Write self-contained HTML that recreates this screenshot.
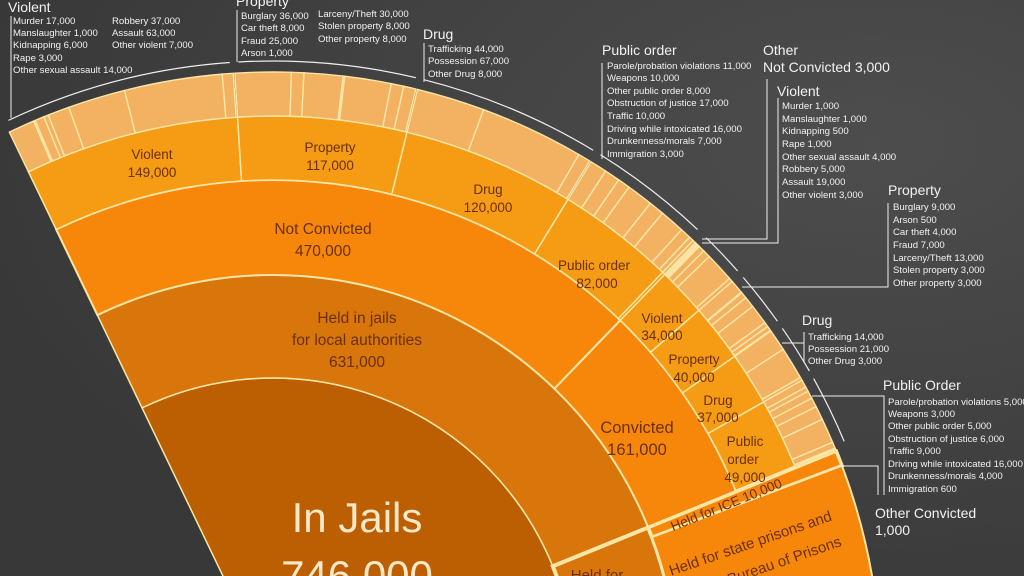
<!DOCTYPE html>
<html><head><meta charset="utf-8"><style>
html,body{margin:0;padding:0;width:1024px;height:576px;overflow:hidden;background:#3a3a3a}
svg{display:block}
text{font-family:"Liberation Sans",sans-serif}
.it{fill:#f2f2f2;font-size:9.6px}
.hd{fill:#f2f2f2;font-size:14px}
.in{fill:#6a3000;font-size:13.5px;text-anchor:middle}
.ln{stroke:#eee;stroke-width:1;fill:none}
</style></head><body>
<svg id="chart" width="1024" height="576" viewBox="0 0 1024 576">
<defs>
<radialGradient id="bg" cx="0.85" cy="0.25" r="0.9">
<stop offset="0" stop-color="#4d4d4d"/><stop offset="1" stop-color="#383838"/>
</radialGradient>
</defs>
<rect width="1024" height="576" fill="url(#bg)"/>
<g id="wedges"></g>
<g id="labelarcs"></g>
<g id="labels">
<text class="in" x="152" y="159">Violent</text><text class="in" x="152" y="177">149,000</text>
<text class="in" x="330" y="152">Property</text><text class="in" x="330" y="170">117,000</text>
<text class="in" x="488" y="194">Drug</text><text class="in" x="488" y="212">120,000</text>
<text class="in" x="594" y="270">Public order</text><text class="in" x="597" y="288">82,000</text>
<text class="in" style="font-size:15.5px" x="323" y="234">Not Convicted</text><text class="in" style="font-size:15.5px" x="323" y="256">470,000</text>
<text class="in" style="font-size:15.5px" x="357" y="323">Held in jails</text><text class="in" style="font-size:15.5px" x="357" y="345">for local authorities</text><text class="in" style="font-size:15.5px" x="357" y="367">631,000</text>
<text class="in" x="662" y="323">Violent</text><text class="in" x="662" y="340">34,000</text>
<text class="in" x="694" y="364">Property</text><text class="in" x="694" y="382">40,000</text>
<text class="in" x="718" y="405">Drug</text><text class="in" x="718" y="422">37,000</text>
<text class="in" x="745" y="446">Public</text><text class="in" x="743" y="464">order</text><text class="in" x="745" y="482">49,000</text>
<text class="in" style="font-size:16.5px" x="637" y="433">Convicted</text><text class="in" style="font-size:16.5px" x="637" y="455">161,000</text>
<text class="in" transform="translate(728,509) rotate(-22)" x="0" y="0">Held for ICE 10,000</text>
<text class="in" style="font-size:15px" transform="translate(752,548) rotate(-19)" x="0" y="0">Held for state prisons and</text>
<text class="in" style="font-size:15px" transform="translate(760,574) rotate(-19)" x="0" y="0">Federal Bureau of Prisons</text>
<text class="in" style="font-size:15px" x="597" y="580">Held for</text>
<text x="357" y="532" text-anchor="middle" style="font-size:42px;fill:#fbe8c6">In Jails</text>
<text x="357" y="590" text-anchor="middle" style="font-size:42px;fill:#fbe8c6">746,000</text>
</g>
<g id="annotations">
<text class="hd" x="8" y="12">Violent</text>
<text class="it" x="13" y="24">Murder 17,000</text><text class="it" x="13" y="36">Manslaughter 1,000</text><text class="it" x="13" y="48">Kidnapping 6,000</text><text class="it" x="13" y="61">Rape 3,000</text><text class="it" x="13" y="73">Other sexual assault 14,000</text>
<text class="it" x="112" y="24">Robbery 37,000</text><text class="it" x="112" y="36">Assault  63,000</text><text class="it" x="112" y="48">Other violent 7,000</text>
<line class="ln" x1="11" y1="16" x2="11" y2="118"/>
<text class="hd" x="236" y="6">Property</text>
<text class="it" x="241" y="19">Burglary 36,000</text><text class="it" x="241" y="31">Car theft 8,000</text><text class="it" x="241" y="44">Fraud 25,000</text><text class="it" x="241" y="56">Arson 1,000</text>
<text class="it" x="318" y="17">Larceny/Theft 30,000</text><text class="it" x="318" y="29">Stolen property 8,000</text><text class="it" x="318" y="42">Other property 8,000</text>
<line class="ln" x1="237" y1="10" x2="237" y2="62"/>
<text class="hd" x="423" y="39">Drug</text>
<text class="it" x="428" y="52">Trafficking 44,000</text><text class="it" x="428" y="64">Possession 67,000</text><text class="it" x="428" y="77">Other Drug 8,000</text>
<line class="ln" x1="424" y1="43" x2="424" y2="82"/>
<text class="hd" x="602" y="55">Public order</text>
<text class="it" x="607" y="69">Parole/probation violations 11,000</text><text class="it" x="607" y="81">Weapons 10,000</text><text class="it" x="607" y="94">Other public order 8,000</text><text class="it" x="607" y="106">Obstruction of justice 17,000</text><text class="it" x="607" y="119">Traffic 10,000</text><text class="it" x="607" y="132">Driving while intoxicated 16,000</text><text class="it" x="607" y="144">Drunkenness/morals 7,000</text><text class="it" x="607" y="157">Immigration 3,000</text>
<line class="ln" x1="602" y1="63" x2="602" y2="159"/>
<text class="hd" x="763" y="55">Other</text><text class="hd" x="763" y="72">Not Convicted 3,000</text>
<polyline class="ln" points="767,79 767,239 702,239"/>
<text class="hd" x="777" y="96">Violent</text>
<text class="it" x="782" y="109">Murder 1,000</text><text class="it" x="782" y="122">Manslaughter 1,000</text><text class="it" x="782" y="134">Kidnapping 500</text><text class="it" x="782" y="147">Rape 1,000</text><text class="it" x="782" y="160">Other sexual assault 4,000</text><text class="it" x="782" y="172">Robbery 5,000</text><text class="it" x="782" y="185">Assault 19,000</text><text class="it" x="782" y="198">Other violent 3,000</text>
<polyline class="ln" points="778,98 778,243 702,243"/>
<text class="hd" x="888" y="195">Property</text>
<text class="it" x="893" y="210">Burglary 9,000</text><text class="it" x="893" y="223">Arson 500</text><text class="it" x="893" y="235">Car theft 4,000</text><text class="it" x="893" y="248">Fraud 7,000</text><text class="it" x="893" y="261">Larceny/Theft 13,000</text><text class="it" x="893" y="273">Stolen property 3,000</text><text class="it" x="893" y="286">Other property  3,000</text>
<polyline class="ln" points="888,203 888,287 742,287"/>
<text class="hd" x="802" y="325">Drug</text>
<text class="it" x="808" y="340">Trafficking 14,000</text><text class="it" x="808" y="352">Possession 21,000</text><text class="it" x="808" y="364">Other Drug 3,000</text>
<polyline class="ln" points="804,332 804,363"/><line class="ln" x1="782" y1="343" x2="804" y2="343"/>
<text class="hd" x="883" y="390">Public Order</text>
<text class="it" x="888" y="405">Parole/probation violations 5,000</text><text class="it" x="888" y="417">Weapons 3,000</text><text class="it" x="888" y="429">Other public order 5,000</text><text class="it" x="888" y="442">Obstruction of justice 6,000</text><text class="it" x="888" y="454">Traffic 9,000</text><text class="it" x="888" y="467">Driving while intoxicated 16,000</text><text class="it" x="888" y="479">Drunkenness/morals 4,000</text><text class="it" x="888" y="492">Immigration 600</text>
<polyline class="ln" points="812,396 884,396 884,495"/>
<text class="hd" x="875" y="518">Other Convicted</text><text class="hd" x="875" y="535">1,000</text>
<polyline class="ln" points="838,466 878,466 878,495"/>
</g>
</svg>
<script>
// data (thousands)
const topNames = ['Held in jails for local authorities', 'Held for other authorities'];
const topValues = [631, 115];
const midNames = ['Not Convicted', 'Convicted', 'Held for ICE', 'Held for state prisons and Federal Bureau of Prisons'];
const midValues = [470, 161, 10, 105];
const catNames = ['NC Violent', 'NC Property', 'NC Drug', 'NC Public order', 'NC Other', 'C Violent', 'C Property', 'C Drug', 'C Public order', 'C Other'];
const catValues = [149, 117, 120, 82, 3, 34, 40, 37, 49, 1];
const subNCViolent = [17, 1, 6, 3, 14, 37, 63, 7];
const subNCProperty = [36, 8, 25, 1, 30, 8, 8];
const subNCDrug = [44, 67, 8];
const subNCPublic = [11, 10, 8, 17, 10, 16, 7, 3];
const subNCOther = [3];
const subCViolent = [1, 1, 0.5, 1, 4, 5, 19, 3];
const subCProperty = [9, 0.5, 4, 7, 13, 3, 3];
const subCDrug = [14, 21, 3];
const subCPublic = [5, 3, 5, 6, 9, 16, 4, 0.6];
const subCOther = [1];
const subGroups = [subNCViolent, subNCProperty, subNCDrug, subNCPublic, subNCOther, subCViolent, subCProperty, subCDrug, subCPublic, subCOther];

const CX = 273, CY = 680, A0 = -25.7, K = 0.1483;
function ang(v){ return A0 + v * K; }
function pt(r, a){ const t = a * Math.PI / 180; return [CX + r * Math.sin(t), CY - r * Math.cos(t)]; }
function wedge(r0, r1, a0, a1){
  const large = (a1 - a0) > 180 ? 1 : 0;
  const p1 = pt(r1, a0), p2 = pt(r1, a1), p3 = pt(r0, a1), p4 = pt(r0, a0);
  if (r0 <= 0) return `M${CX},${CY}L${p1}A${r1},${r1} 0 ${large} 1 ${p2}Z`;
  return `M${p1}A${r1},${r1} 0 ${large} 1 ${p2}L${p3}A${r0},${r0} 0 ${large} 0 ${p4}Z`;
}
const NS = 'http://www.w3.org/2000/svg';
const G = document.getElementById('wedges');
function add(d, fill, sw, name){
  const p = document.createElementNS(NS, 'path');
  p.setAttribute('d', d); p.setAttribute('fill', fill);
  p.setAttribute('stroke', '#fbe6a6'); p.setAttribute('stroke-width', sw);
  
  
  G.appendChild(p);
  return p;
}
const total = topValues.reduce((a, b) => a + b, 0);
add(wedge(0, 302, ang(0), ang(total)), '#bb5f02', 1.5, 'in-jails-center');
let c = 0;
topValues.forEach((v, i) => { add(wedge(302, 405, ang(c), ang(c + v)), '#d8750b', i ? 4 : 1.5, 'held-segment-' + i); c += v; });
let m = 0;
const midStart = [];
midValues.forEach((v, i) => {
  midStart.push(m);
  const outer = i < 2 ? 500 : 608;
  add(wedge(405, outer, ang(m), ang(m + v)), '#f7870b', i === 2 ? 3.5 : 2, 'status-segment-' + i);
  m += v;
});
// categories
const catParent = [0,0,0,0,0,1,1,1,1,1];
const catStart = [];
let pos = [midStart[0], midStart[1]];
catValues.forEach((v, i) => {
  const p = catParent[i];
  const s = pos[p];
  catStart.push(s);
  add(wedge(500, 564, ang(s), ang(s + v)), '#f59b14', 1.5, 'category-' + i);
  let q = s;
  subGroups[i].forEach((sv, j) => {
    add(wedge(564, 608, ang(q), ang(q + sv)), '#f3b162', 1.4, 'subcategory-' + i + '-' + j);
    q += sv;
  });
  pos[p] = s + v;
});
// label arcs
const LA = document.getElementById('labelarcs');
catValues.forEach((v, i) => {
  if (v < 5) return;
  const a0 = ang(catStart[i]) + 0.4, a1 = ang(catStart[i] + v) - 0.4;
  const r = 619, p1 = pt(r, a0), p2 = pt(r, a1);
  const p = document.createElementNS(NS, 'path');
  p.setAttribute('d', `M${p1}A${r},${r} 0 0 1 ${p2}`);
  p.setAttribute('fill', 'none'); p.setAttribute('stroke', '#eee'); p.setAttribute('stroke-width', '1.2');
  
  
  LA.appendChild(p);
});
</script>
</body></html>
